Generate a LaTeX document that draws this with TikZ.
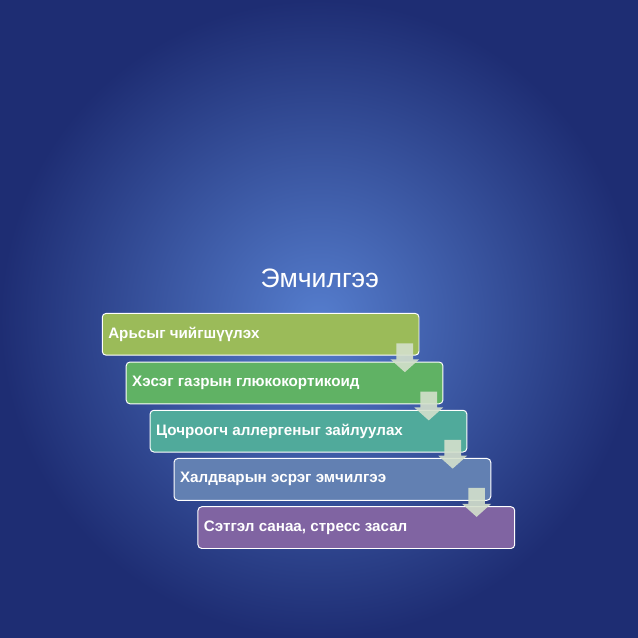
\documentclass[tikz,border=0pt]{standalone}
\usepackage{fontspec}
\setmainfont{Liberation Sans}
\begin{document}
\begin{tikzpicture}[x=1pt,y=-1pt,
  bx/.style={draw=white,line width=1.3pt,rounded corners=5pt,minimum width=417pt,minimum height=55pt,anchor=north west,inner sep=0pt},
  lbl/.style={anchor=west,text=white,font=\bfseries\fontsize{20}{22}\selectfont},
  arr/.style={fill={rgb,255:red,212;green,224;blue,204},fill opacity=0.9,draw=none}]
\fill[fill={rgb,255:red,30;green,45;blue,115}] (0,0) rectangle (638,478);
\shade[inner color={rgb,255:red,85;green,125;blue,205},outer color={rgb,255:red,30;green,45;blue,115}] (318-420,130-420) rectangle (318+420,130+420);
\useasboundingbox (0,0) rectangle (638,478);
\node[text=white,font=\fontsize{35}{40}\selectfont] (title) at (319,77) {Эмчилгээ};
\def\arrowat#1#2{\fill[arr] (#1-11,#2) -- (#1+11,#2) -- (#1+11,#2+21) -- (#1+19,#2+21) -- (#1,#2+38) -- (#1-19,#2+21) -- (#1-11,#2+21) -- cycle;}
\node[bx,fill={rgb,255:red,155;green,187;blue,89}] (b1) at (32,122) {};
\node[lbl] at (37,150) {Арьсыг чийгшүүлэх};
\node[bx,fill={rgb,255:red,96;green,178;blue,100}] (b2) at (63.5,186) {};
\node[lbl] at (68.5,214) {Хэсэг газрын глюкокортикоид};
\arrowat{431}{162}
\node[bx,fill={rgb,255:red,80;green,170;blue,155}] (b3) at (95,249.5) {};
\node[lbl] at (100,277.5) {Цочроогч аллергеныг зайлуулах};
\arrowat{462.5}{225.5}
\node[bx,fill={rgb,255:red,98;green,128;blue,178}] (b4) at (126.5,313) {};
\node[lbl] at (131.5,341) {Халдварын эсрэг эмчилгээ};
\arrowat{494}{289}
\node[bx,fill={rgb,255:red,128;green,100;blue,162}] (b5) at (158,376.5) {};
\node[lbl] at (163,404.5) {Сэтгэл санаа, стресс засал};
\arrowat{525.5}{352.5}
\end{tikzpicture}
\end{document}
